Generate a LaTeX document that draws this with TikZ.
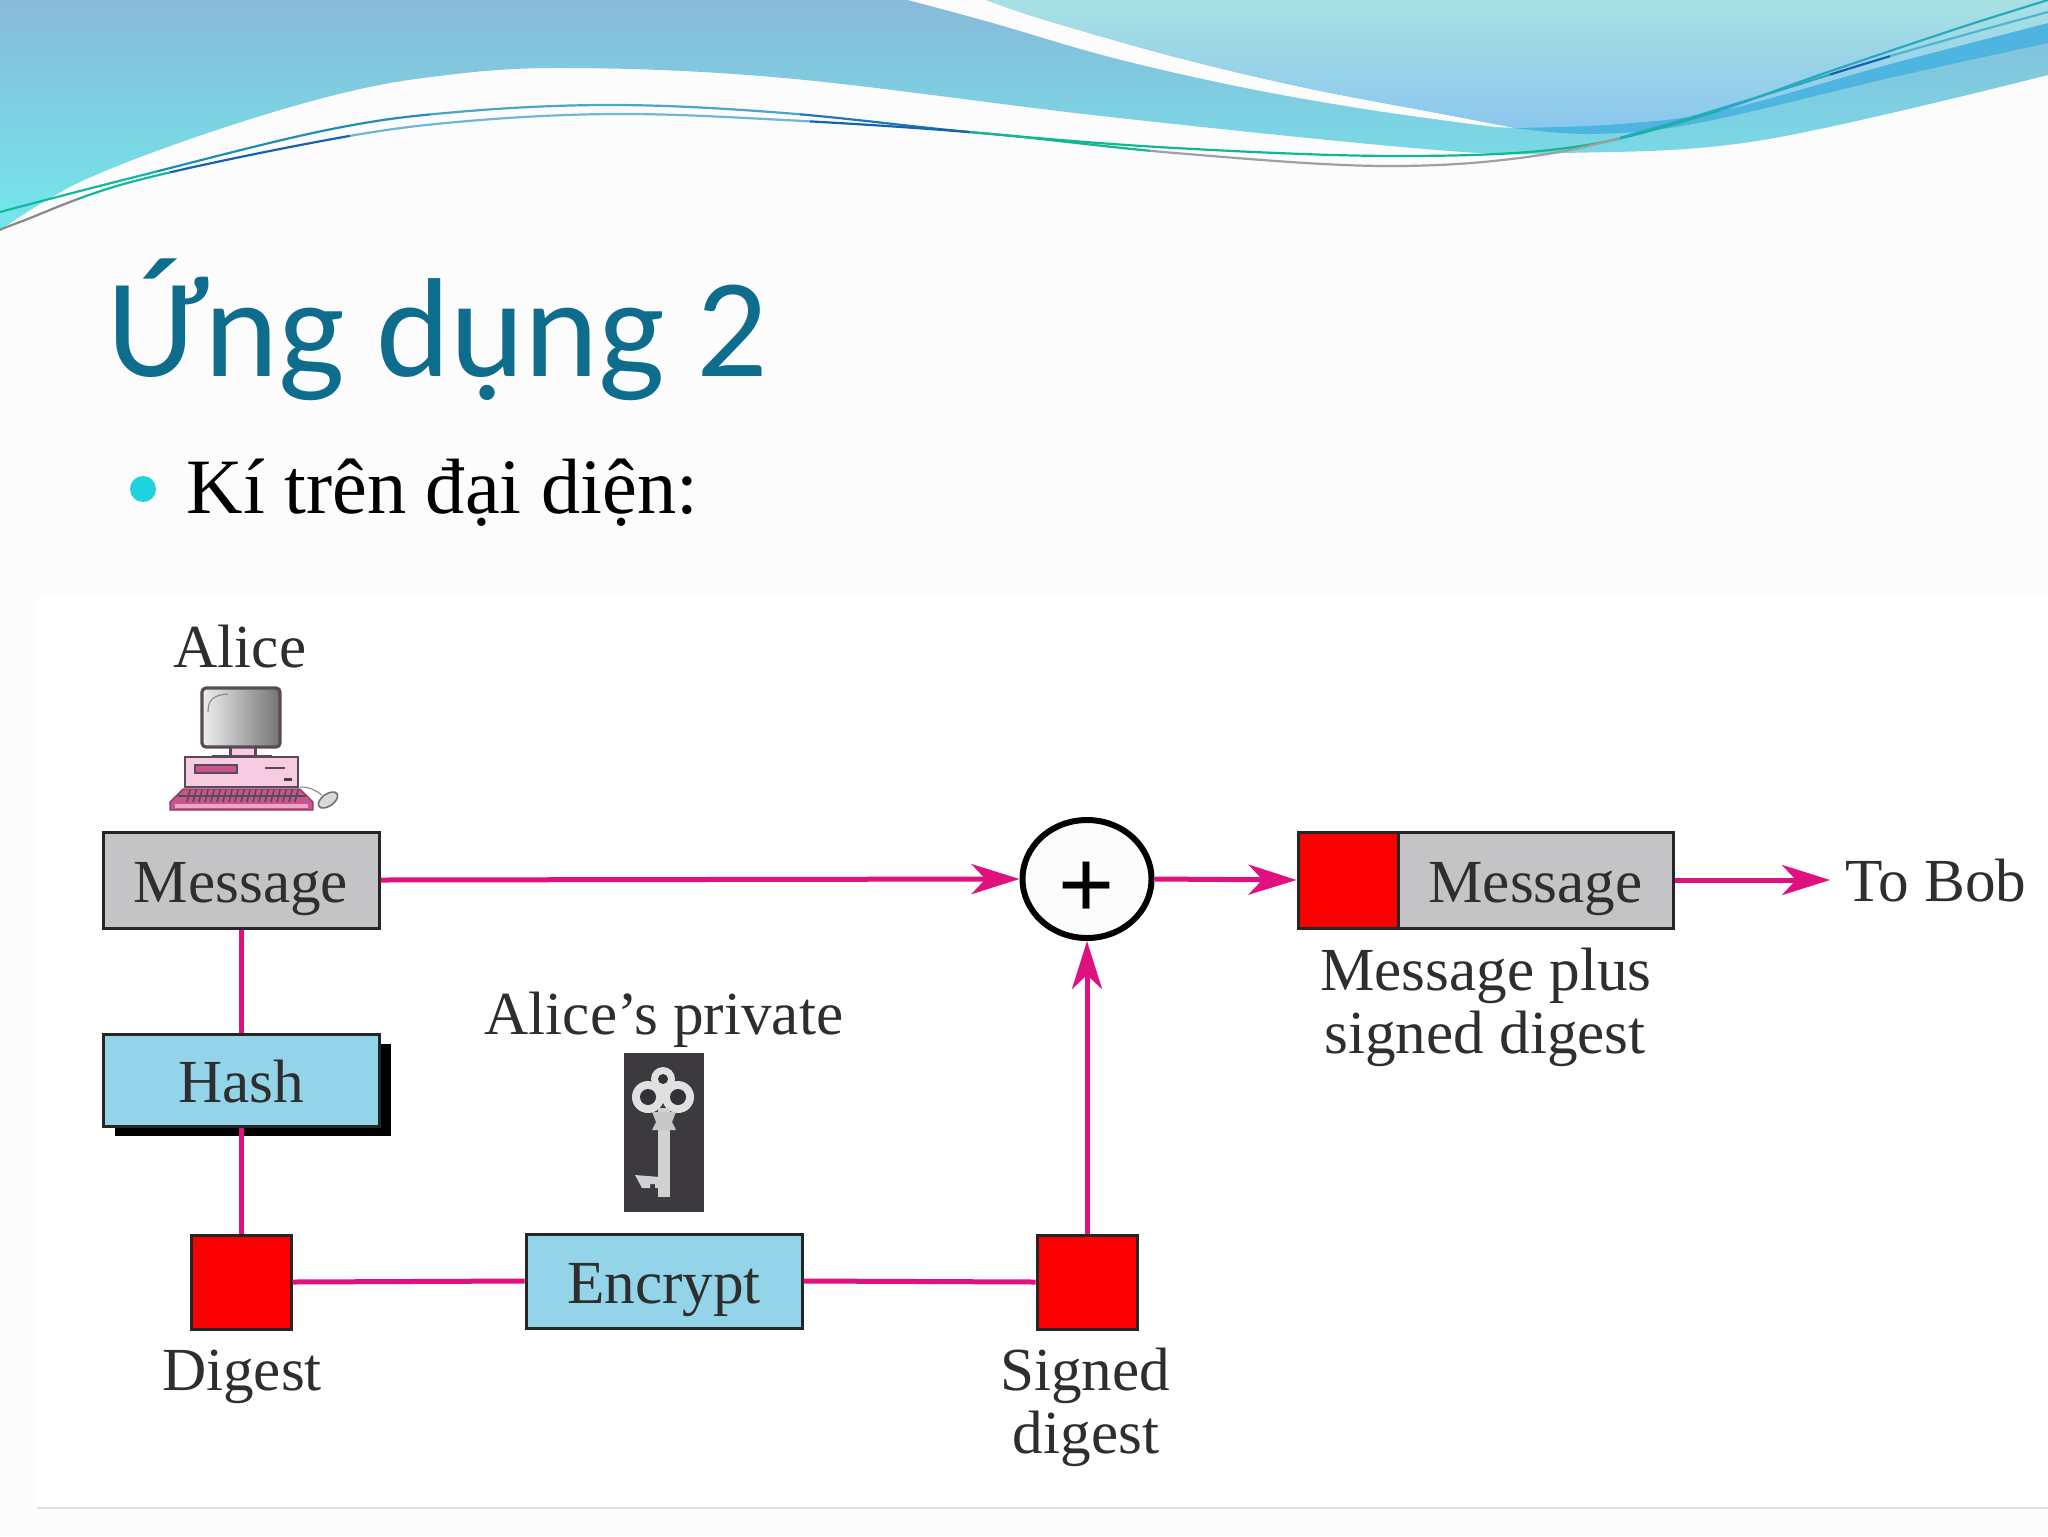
\documentclass[tikz,border=0pt]{standalone}
\usepackage{fontspec}
\setmainfont{Liberation Serif}
\newfontfamily\titlefont{Carlito}
\newfontfamily\plusfont{Liberation Sans}
\usetikzlibrary{arrows.meta,shadows,shapes.geometric}
\definecolor{pagebg}{HTML}{FCFCFD}
\definecolor{inkc}{HTML}{2E2E2E}
\definecolor{pinkline}{HTML}{E0107F}
\definecolor{graybox}{HTML}{C4C4C6}
\definecolor{bluebox}{HTML}{93D4E8}
\definecolor{redbox}{HTML}{FB0000}
\definecolor{titlec}{HTML}{0E6C8C}
\definecolor{bulletc}{HTML}{1FD3DE}
\definecolor{wavetop}{HTML}{88BAD9}
\definecolor{wavemid}{HTML}{7CCDE1}
\definecolor{wavebot}{HTML}{72E8EC}
\definecolor{lighttop}{HTML}{A8E1E3}
\definecolor{lightmid}{HTML}{9ADAE6}
\definecolor{lightbot}{HTML}{8BC7EE}
\definecolor{bandc}{HTML}{4DB5E0}
\definecolor{kbg}{HTML}{3C3A3E}
\definecolor{pcpink}{HTML}{F8CCE0}
\definecolor{pcdark}{HTML}{C9558E}
\definecolor{pcline}{HTML}{5A4A55}
\definecolor{la}{HTML}{10B8A0}\definecolor{lb}{HTML}{1F8FB0}\definecolor{lc}{HTML}{4AA5C8}
\definecolor{ld}{HTML}{1E78B8}\definecolor{le}{HTML}{10B890}\definecolor{lf}{HTML}{2AA8C0}
\definecolor{ma}{HTML}{888888}\definecolor{mb}{HTML}{1860B0}\definecolor{mc}{HTML}{70B5D8}
\definecolor{md}{HTML}{A0A0A0}\definecolor{me}{HTML}{50B5CE}
\tikzset{
  lbl/.style={font=\fontsize{30.6}{36}\selectfont,text=inkc,anchor=base,inner sep=0pt},
  boxbase/.style={draw=black!85,line width=1.5pt,inner sep=0pt,text=inkc,
    font=\fontsize{30.6}{36}\selectfont,text height=22pt,text depth=0pt,anchor=center},
  graybx/.style={boxbase,fill=graybox},
  bluebx/.style={boxbase,fill=bluebox},
  redbx/.style={draw=black!85,line width=1.5pt,fill=redbox,inner sep=0pt,anchor=center},
  link/.style={draw=pinkline,line width=2.5pt},
  arrowlink/.style={link,-{Stealth[length=24pt,width=15pt,inset=7pt]}},
  wavline/.style={line width=1.1pt}
}
\def\lineone{plot[smooth,tension=0.6] coordinates {(0,212)(131,178)(327,130)(457,112)(614,105)(784,113)(980,133)(1175,148)(1397,156)(1567,148)(1698,117)(1828,72)(1959,28)(2048,0)}}
\def\linetwo{plot[smooth,tension=0.6] coordinates {(0,230)(20,222)(131,182)(327,140)(457,122)(614,114)(784,120)(980,133)(1175,153)(1384,166)(1541,155)(1672,123)(1894,55)(2048,12)}}
\begin{document}
\begin{tikzpicture}[x=0.5pt,y=-0.5pt]
\useasboundingbox (0,0) rectangle (2048,1536);
\fill[pagebg] (0,0) rectangle (2048,1536);
% header waves
\shade[top color=wavetop,middle color=wavemid,bottom color=wavebot]
  (0,0) -- (2048,0) -- (2048,75) -- plot[smooth,tension=0.6] coordinates {(2048,75)(1763,140)(1567,153)(1437,150)(1110,117)(784,78)(562,68)(431,77)(327,97)(196,137)(78,183)(0,230)} -- cycle;
\fill[pagebg] (908,0) -- plot[smooth,tension=0.6] coordinates {(908,0)(993,23)(1110,57)(1241,87)(1371,110)(1495,127)} -- plot[smooth,tension=0.6] coordinates {(1515,128)(1437,113)(1306,88)(1175,57)(1045,20)(986,0)} -- cycle;
\fill[bandc] (1515,128) -- plot[smooth,tension=0.6] coordinates {(1515,128)(1593,134)(1698,123)(1894,77)(2048,43)} -- (2048,0) -- (1800,0) -- cycle;
\shade[top color=lighttop,middle color=lightmid,bottom color=lightbot]
  (986,0) -- plot[smooth,tension=0.6] coordinates {(986,0)(1045,20)(1175,57)(1306,88)(1437,113)(1515,128)} -- plot[smooth,tension=0.6] coordinates {(1515,128)(1620,124)(1724,110)(1894,63)(2048,23)} -- (2048,0) -- cycle;
\foreach \a/\b/\c in {0/157/la,157/430/lb,430/800/lc,800/970/ld,970/1720/le,1720/2048/lf}{
  \begin{scope}\clip (\a,0) rectangle (\b,260);\draw[wavline,\c] \lineone;\end{scope}}
\foreach \a/\b/\c in {0/78/ma,78/170/la,170/350/mb,350/810/mc,810/970/mb,970/1150/le,1150/1620/md,1620/1830/lf,1830/1890/mb,1890/2048/me}{
  \begin{scope}\clip (\a,0) rectangle (\b,260);\draw[wavline,\c] \linetwo;\end{scope}}
% title
\node[anchor=base west,inner sep=0pt,text=titlec,font=\titlefont\fontsize{70.5}{84}\selectfont] (title) at (107,376) {Ứng dụng 2};
\fill[bulletc] (143,489) circle (13);
\node[anchor=base west,inner sep=0pt,text=black,font=\fontsize{39.2}{46}\selectfont] (body) at (186,513) {Kí trên đại diện:};
% diagram panel
\fill[white] (37,598) rectangle (2048,1508);
\draw[black!12,line width=1.2pt] (37,1508) -- (2048,1508);
% computer
\draw[pcline,line width=1.5pt,fill=pcpink] (230,746) rectangle (255,758);
\shade[left color=black!6,middle color=black!14,right color=black!55,draw=pcline,line width=1.6pt,rounded corners=2pt] (202,688) rectangle (280,747);
\draw[white!55!black,line width=0.6pt] (208,712) .. controls (208,700) and (213,695) .. (228,694);
\draw[pcline,line width=0.8pt,fill=pcpink] (185,757) rectangle (298,787);
\fill[pcline] (212,755) rectangle (272,758);
\draw[pcline,line width=0.6pt,fill=pcdark] (195,765) rectangle (237,773);
\fill[pcline] (265,767) rectangle (285,769);
\fill[black!75] (284,778) rectangle (292,781);
\draw[pcdark!70!black,line width=0.7pt,fill=pcdark] (170,802) -- (183,789) -- (300,789) -- (313,802) -- (313,810) -- (170,810) -- cycle;
\foreach \k in {190,196,...,298}{\draw[pcline,line width=0.8pt] (\k,790) -- (\k-3,802);}
\draw[pcline,line width=0.7pt] (178,796) -- (306,796);
\fill[pcpink!70!pcdark] (175,804) rectangle (308,808);
\draw[black!50,line width=0.5pt] (300,787) .. controls (310,787) and (315,790) .. (322,795);
\draw[black!55,line width=0.8pt,fill=black!15,rotate around={35:(328,800)}] (328,800) ellipse (11 and 6);
% key
\fill[kbg] (624,1053) rectangle (704,1212);
\foreach \p/\q/\r in {648/1097/16,678/1097/16,663/1079/12}{
  \fill[black!12] (\p,\q) circle (\r);}
\foreach \p/\q/\r in {648/1097/8,678/1097/8,663/1079/5}{
  \fill[kbg!85!black] (\p,\q) circle (\r);}
\fill[black!18] (658,1108) rectangle (670,1197);
\fill[black!22] (652,1112) -- (676,1112) -- (672,1122) -- (676,1130) -- (652,1130) -- (656,1122) -- cycle;
\fill[black!18] (635,1175) -- (660,1177) -- (660,1188) -- (655,1188) -- (655,1184) -- (650,1184) -- (650,1188) -- (642,1188) -- cycle;
% boxes
\node[graybx,minimum width=138pt,minimum height=48pt] (msg) at (241,880) {Message};
\node[bluebx,minimum width=138pt,minimum height=46pt,drop shadow={shadow xshift=6pt,shadow yshift=-5pt,opacity=1,fill=black}] (hash) at (241,1080) {Hash};
\node[redbx,minimum width=50pt,minimum height=47pt] (dig) at (241,1282) {};
\node[bluebx,minimum width=138pt,minimum height=47pt] (enc) at (664,1281) {Encrypt};
\node[redbx,minimum width=50pt,minimum height=47pt] (sig) at (1087,1282) {};
\node[ellipse,draw=black,line width=3pt,fill=pagebg,minimum width=64.5pt,minimum height=59pt,inner sep=0pt] (sum) at (1087,879) {};
\node[inner sep=0pt,text=black,font=\plusfont\fontsize{48}{50}\selectfont] (plussign) at (1087,890) {+};
\node[redbx,minimum width=50pt,minimum height=48pt] (mred) at (1348,880) {};
\node[graybx,minimum width=137.5pt,minimum height=48pt] (mgray) at (1535.5,880) {Message};
% labels
\node[lbl] (alice) at (240,667) {Alice};
\node[lbl] (priv) at (664,1034) {Alice's private};
\node[lbl] (digl) at (242,1390) {Digest};
\node[lbl] (sigl) at (1085,1390) {Signed};
\node[lbl] (sigm) at (1086,1453) {digest};
\node[lbl] (plusa) at (1486,990) {Message plus};
\node[lbl] (plusb) at (1485,1053) {signed digest};
\node[lbl] (bob) at (1936,901) {To Bob};
\coordinate (bobin) at (1830,880);
% connectors
\draw[link] (msg.south) -- (hash.north);
\draw[link] (hash.south) -- (dig.north);
\draw[link] (dig.east) -- (enc.west);
\draw[link] (enc.east) -- (sig.west);
\draw[arrowlink] (msg.east) -- (sum.west);
\draw[arrowlink] (sum.east) -- (mred.west);
\draw[arrowlink] (sig.north) -- (sum.south);
\draw[arrowlink] (mgray.east) -- (bobin);
\end{tikzpicture}
\end{document}
